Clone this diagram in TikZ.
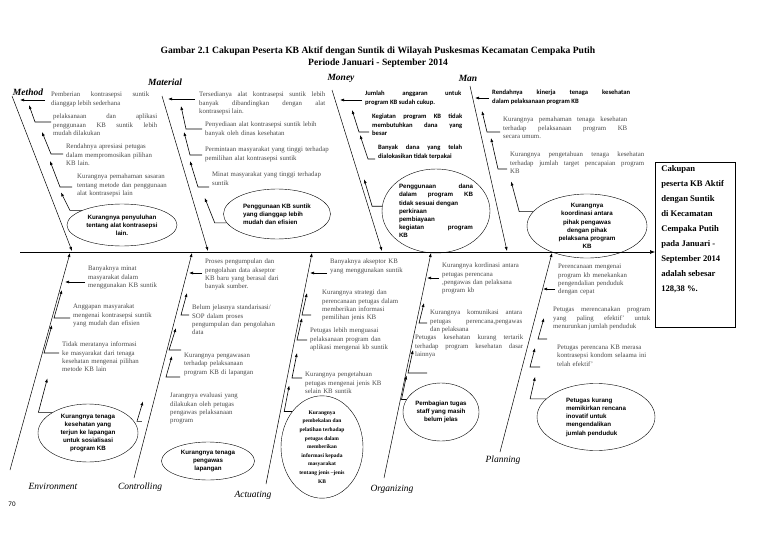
\documentclass[tikz,border=0pt]{standalone}
\usepackage{fontspec}
\setmainfont{Liberation Serif}
\newfontfamily\ellfont{Carlito}
\newfontfamily\probfont{Liberation Sans}
\usetikzlibrary{arrows.meta,positioning,shapes.geometric}
\definecolor{causegray}{RGB}{72,72,72}

\begin{document}
\begin{tikzpicture}[x=1pt,y=-1pt, every node/.style={inner sep=1pt},
  cause/.style={font=\fontsize{6.8}{8.3}\selectfont,text=causegray,anchor=north west,align=left},
  jcause/.style={cause,align=justify},
  boldcause/.style={font=\ellfont\bfseries\fontsize{6.6}{8.3}\selectfont,anchor=north west,align=justify},
  problem/.style={draw,ellipse,inner sep=0pt,font=\probfont\bfseries\fontsize{6.2}{8.2}\selectfont,align=center},
  bonelabel/.style={font=\fontsize{9.5}{10}\selectfont\itshape},
  topbone/.style={font=\fontsize{9.5}{10}\selectfont\bfseries\itshape},
  bone/.style={line width=0.5pt,-{Latex[length=4pt,width=3pt]}},
  sub/.style={line width=0.6pt,-{Latex[length=4pt,width=3pt]}}]
\useasboundingbox (0,0) rectangle (768,543);

\node[font=\bfseries\fontsize{9.6}{11.5}\selectfont,align=center] (title) at (378,57)
  {Gambar 2.1 Cakupan Peserta KB Aktif dengan Suntik di Wilayah Puskesmas Kecamatan Cempaka Putih\\Periode Januari - September 2014};

% head of the fish
\node[draw,line width=0.6pt,anchor=north west,inner sep=0pt] (res) at (655,162)
  {\parbox[t][165pt][t]{80pt}{\fontsize{8.6}{15}\selectfont\bfseries\leftskip=6pt\vspace*{3pt}Cakupan\\peserta KB Aktif\\dengan Suntik\\di Kecamatan\\Cempaka Putih\\pada Januari -\\September 2014\\adalah sebesar\\128,38 \%.}};
\coordinate (tail) at (20,252);
\draw[line width=0.6pt,-{Latex[length=5pt,width=4pt]}] (tail) -- (tail -| res.west);

% bones
\coordinate (methodA) at (12,96);    \coordinate (methodB) at (72,251);
\coordinate (materialA) at (162,96); \coordinate (materialB) at (208,251);
\coordinate (moneyA) at (332,90);    \coordinate (moneyB) at (382,251);
\coordinate (manA) at (470,86);      \coordinate (manB) at (507,251);
\coordinate (envA) at (10,470);      \coordinate (envB) at (70,253);
\coordinate (ctrlA) at (134,478);    \coordinate (ctrlB) at (192,253);
\coordinate (actA) at (266,484);     \coordinate (actB) at (312,253);
\coordinate (orgA) at (384,478);     \coordinate (orgB) at (431,253);
\coordinate (planA) at (500,452);    \coordinate (planB) at (552,253);
\foreach \b in {method,material,money,man,env,ctrl,act,org,plan}
  \draw[bone] (\b A) -- (\b B);

% method
\node[topbone] (method) at (28,92) {Method};
\node[jcause,text width=98pt] (m1) at (50,91) {Pemberian kontrasepsi suntik\linebreak dianggap lebih sederhana};
\node[jcause,text width=104pt] (m2) at (52,113) {pelaksanaan dan aplikasi\linebreak penggunaan KB suntik lebih\linebreak mudah dilakukan};
\node[cause,text width=100pt] (m3) at (65,143) {Rendahnya apresiasi petugas\\dalam mempromosikan pilihan\\KB lain.};
\node[cause,text width=104pt] (m4) at (76,173) {Kurangnya pemahaman sasaran\\tentang metode dan penggunaan\\alat kontrasepsi lain};
\node[problem,minimum width=110pt,minimum height=42pt] (m5) at (122,225) {Kurangnya penyuluhan\\tentang alat kontrasepsi\\lain.};
\draw[sub] ([shift={(-5,9)}]m1.north west) -- ++(-25,0);
\draw[sub] ([shift={(-1,9)}]m2.north west) -- ++(-16,0) -- ++(-6,-17);
\draw[sub] ([shift={(-2,11)}]m3.north west) -- ++(-12,0) -- ++(-9,-22);
\draw[sub] ([shift={(-4,14)}]m4.north west) -- ++(-12,0) -- ++(-10,-26);
\draw[sub] (m5.160) -- ++(-12,0) -- ++(-9,-18);

% material
\node[topbone] (material) at (165,82) {Material};
\node[jcause,text width=126pt] (a1) at (198,91) {Tersedianya alat kontrasepsi suntik lebih\linebreak banyak dibandingkan dengan alat\linebreak kontrasepsi lain.};
\node[cause,text width=124pt] (a2) at (204,121) {Penyediaan alat kontrasepsi suntik lebih\\banyak oleh dinas kesehatan};
\node[cause,text width=130pt] (a3) at (204,146) {Permintaan masyarakat yang tinggi terhadap\\pemilihan alat kontrasepsi suntik};
\node[cause,text width=120pt] (a4) at (211,171) {Minat masyarakat yang tinggi terhadap\\suntik};
\node[problem,minimum width=107pt,minimum height=50pt,align=left] (a5) at (277,214) {Penggunaan KB suntik\\yang dianggap lebih\\mudah dan efisien};
\draw[sub] ([shift={(-3,8)}]a1.north west) -- ++(-27,0);
\draw[sub] ([shift={(-2,8)}]a2.north west) -- ++(-16,0) -- ++(-5,-23);
\draw[sub] ([shift={(-2,9)}]a3.north west) -- ++(-12,0) -- ++(-6,-23);
\draw[sub] ([shift={(-2,16)}]a4.north west) -- ++(-11,0) -- ++(-8,-26);
\draw[sub] (a5.190) -- ++(-12,0) -- ++(-10,-25);

% money
\node[topbone] (money) at (341,78) {Money};
\node[boldcause,text width=96pt] (n1) at (364,90) {Jumlah anggaran untuk\linebreak program KB sudah cukup.};
\node[boldcause,text width=90pt] (n2) at (371,113) {Kegiatan program KB tidak\linebreak membutuhkan dana yang\linebreak besar};
\node[boldcause,text width=84pt] (n3) at (377,144) {Banyak dana yang telah\linebreak dialokasikan tidak terpakai};
\node[problem,minimum width=108pt,minimum height=84pt,text width=74pt,align=justify] (n4) at (436,211) {Penggunaan dana\linebreak dalam program KB\linebreak tidak sesuai dengan\\perkiraan\\pembiayaan\\kegiatan program\linebreak KB};
\draw[sub] ([shift={(-2,10)}]n1.north west) -- ++(-22,0);
\draw[sub] ([shift={(-2,19)}]n2.north west) -- ++(-10,0) -- ++(-7,-22);
\draw[sub] ([shift={(-2,15)}]n3.north west) -- ++(-7,0) -- ++(-8,-24);
\draw[sub] (n4.175) -- ++(-10,0) -- ++(-8,-27);

% man
\node[topbone] (man) at (468,78) {Man};
\node[boldcause,text width=138pt] (p1) at (491,89) {Rendahnya kinerja tenaga kesehatan\linebreak dalam pelaksanaan program KB};
\node[jcause,text width=124pt] (p2) at (502,116) {Kurangnya pemahaman tenaga kesehatan\linebreak terhadap pelaksanaan program KB\linebreak secara umum.};
\node[jcause,text width=134pt] (p3) at (509,151) {Kurangnya pengetahuan tenaga kesehatan\linebreak terhadap jumlah target pencapaian program\linebreak KB};
\node[problem,minimum width=120pt,minimum height=53pt] (p4) at (587,226) {Kurangnya\\koordinasi antara\\pihak pengawas\\dengan pihak\\pelaksana program\\KB};
\draw[sub] ([shift={(-2,9)}]p1.north west) -- ++(-14,0);
\draw[sub] ([shift={(-2,16)}]p2.north west) -- ++(-13,0) -- ++(-5,-21);
\draw[sub] ([shift={(-2,18)}]p3.north west) -- ++(-9,0) -- ++(-7,-31);
\draw[sub] (p4.165) -- ++(-14,0) -- ++(-8,-30);

% environment
\node[bonelabel] (environment) at (53,486) {Environment};
\node[cause,text width=80pt] (e1) at (87,265) {Banyaknya minat\\masyarakat dalam\\menggunakan KB suntik};
\node[cause,text width=92pt] (e2) at (72,303) {Anggapan masyarakat\\mengenai kontrasepsi suntik\\yang mudah dan efisien};
\node[cause,text width=92pt] (e3) at (61,341) {Tidak meratanya informasi\\ke masyarakat dari tenaga\\kesehatan mengenai pilihan\\metode KB lain};
\node[problem,minimum width=100pt,minimum height=58pt] (e4) at (88,433) {Kurangnya tenaga\\kesehatan yang\\terjun ke lapangan\\untuk sosialisasi\\program KB};
\draw[sub] ([shift={(-2,17)}]e1.north west) -- ++(-20,0);
\draw[sub] ([shift={(-2,15)}]e2.north west) -- ++(-16,0) -- ++(8,-28);
\draw[sub] ([shift={(-2,12)}]e3.north west) -- ++(-15,0) -- ++(8,-28);
\draw[sub] (e4.150) -- ++(-14,0) -- ++(9,-34);

% controlling
\node[bonelabel] (controlling) at (140,487) {Controlling};
\node[cause,text width=84pt] (c1) at (204,258) {Proses pengumpulan dan\\pengolahan data akseptor\\KB baru yang berasal dari\\banyak sumber.};
\node[cause,text width=94pt] (c2) at (191,304) {Belum jelasnya standarisasi/\\SOP dalam proses\\pengumpulan dan pengolahan\\data};
\node[cause,text width=84pt] (c3) at (183,352) {Kurangnya pengawasan\\terhadap pelaksanaan\\program KB di lapangan};
\node[cause,text width=82pt] (c4) at (169,392) {Jarangnya evaluasi yang\\dilakukan oleh petugas\\pengawas pelaksanaan\\program};
\node[problem,minimum width=93pt,minimum height=38pt] (c5) at (208,461) {Kurangnya tenaga\\pengawas\\lapangan};
\draw[sub] ([shift={(-2,15)}]c1.north west) -- ++(-13,0);
\draw[sub] ([shift={(-2,11)}]c2.north west) -- ++(-8,0) -- ++(6,-22);
\draw[sub] ([shift={(-2,-2)}]c3.north west) -- ++(-12,0) -- ++(7,-22);
\draw[sub] ([shift={(11,-15)}]c4.north west) -- ++(-14,0) -- ++(6,-21);
\draw[sub] ([shift={(-33,-26)}]c5.north west) -- ++(-5,0) -- ++(6,-20);

% actuating
\node[bonelabel] (actuating) at (253,495) {Actuating};
\node[cause,text width=78pt] (t1) at (329,258) {Banyaknya akseptor KB\\yang menggunakan suntik};
\node[cause,text width=84pt] (t2) at (321,289) {Kurangnya strategi dan\\perencanaan petugas dalam\\memberikan informasi\\pemilihan jenis KB};
\node[cause,text width=90pt] (t3) at (309,327) {Petugas lebih menguasai\\pelaksanaan program dan\\aplikasi mengenai kb suntik};
\node[cause,text width=88pt] (t4) at (304,371) {Kurangnya pengetahuan\\petugas mengenai jenis KB\\selain KB suntik};
\node[problem,minimum width=82pt,minimum height=100pt,font=\bfseries\fontsize{5.5}{8.6}\selectfont] (t5) at (322,447) {Kurangnya\\pembekalan dan\\pelatihan terhadap\\petugas dalam\\memberikan\\informasi kepada\\masyarakat\\tentang jenis --jenis\\KB};
\draw[sub] ([shift={(-2,15)}]t1.north west) -- ++(-17,0);
\draw[sub] ([shift={(-10,26)}]t2.north west) -- ++(-9,0) -- ++(5,-22);
\draw[sub] ([shift={(-2,13)}]t3.north west) -- ++(-10,0) -- ++(5,-22);
\draw[sub] ([shift={(-2,7)}]t4.north west) -- ++(-10,0) -- ++(5,-25);
\draw[sub] (t5.130) -- ++(-8,0) -- ++(5,-26);

% organizing
\node[bonelabel] (organizing) at (392,489) {Organizing};
\node[cause,text width=84pt] (o1) at (441,262) {Kurangnya kordinasi antara\\petugas perencana\\,pengawas dan pelaksana\\program kb};
\node[jcause,text width=92pt] (o2) at (429,309) {Kurangnya komunikasi antara\linebreak petugas perencana,pengawas\linebreak dan pelaksana};
\node[jcause,text width=108pt] (o3) at (414,334) {Petugas kesehatan kurang tertarik\linebreak terhadap program kesehatan dasar\linebreak lainnya};
\node[problem,minimum width=76pt,minimum height=58pt] (o4) at (441,412) {Pembagian tugas\\staff yang masih\\belum jelas};
\draw[sub] ([shift={(-2,16)}]o1.north west) -- ++(-12,0);
\draw[sub] ([shift={(-2,14)}]o2.north west) -- ++(-8,0) -- ++(5,-20);
\draw[sub] ([shift={(13,39)}]o3.north west) -- ++(-19,0) -- ++(5,-23);
\draw[sub] (o4.160) -- ++(-5,0) -- ++(5,-24);

% planning
\node[bonelabel] (planning) at (503,460) {Planning};
\node[cause,text width=80pt] (l1) at (557,263) {Perencanaan mengenai\\program kb menekankan\\pengendalian penduduk\\dengan cepat};
\node[jcause,text width=97pt] (l2) at (552,306) {Petugas merencanakan program\linebreak yang paling efektif' untuk\linebreak menurunkan jumlah penduduk};
\node[cause,text width=98pt] (l3) at (556,344) {Petugas perencana KB merasa\\kontrasepsi kondom selaama ini\\telah efektif'};
\node[problem,minimum width=118pt,minimum height=67pt,align=left] (l4) at (596,417) {Petugas kurang\\memikirkan rencana\\inovatif untuk\\mengendalikan\\jumlah penduduk};
\draw[sub] ([shift={(-2,26)}]l1.north west) -- ++(-12,0);
\draw[sub] ([shift={(-5,33)}]l2.north west) -- ++(-9,0) -- ++(6,-21);
\draw[sub] ([shift={(-16,23)}]l3.north west) -- ++(-10,0) -- ++(5,-19);
\draw[sub] (l4.160) -- ++(-16,0) -- ++(5,-22);

\node[font=\ellfont\fontsize{7}{8}\selectfont] (pagenum) at (12,504) {70};
\end{tikzpicture}
\end{document}
